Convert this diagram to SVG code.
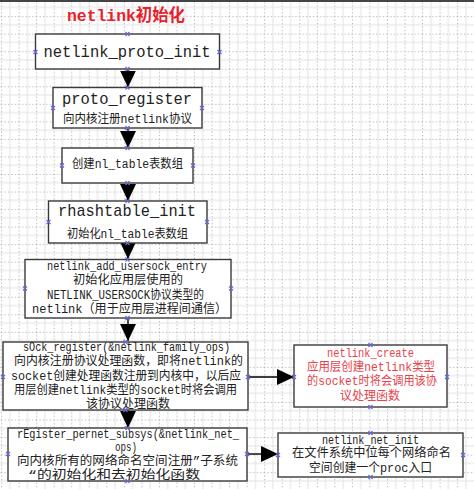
<svg xmlns="http://www.w3.org/2000/svg" width="474" height="489" viewBox="0 0 474 489">
<defs>
<pattern id="grid" x="1.1" y="-1.4" width="17.54" height="17.54" patternUnits="userSpaceOnUse">
<line x1="8.77" y1="0" x2="8.77" y2="17.54" stroke="#e2e2e2" stroke-width="1"/>
<line x1="0" y1="8.77" x2="17.54" y2="8.77" stroke="#e2e2e2" stroke-width="1"/>
<line x1="0.5" y1="0" x2="0.5" y2="17.54" stroke="#b4b4b4" stroke-width="1" stroke-dasharray="1.2 2.2"/>
<line x1="0" y1="0.5" x2="17.54" y2="0.5" stroke="#b4b4b4" stroke-width="1" stroke-dasharray="1.2 2.2"/>
</pattern>
<marker id="arr" viewBox="0 0 17 16" markerWidth="17" markerHeight="16" refX="17" refY="8" orient="auto" markerUnits="userSpaceOnUse">
<path d="M0,0 L17,8 L0,16 Z" fill="#000"/>
</marker>
<g id="cp"><path d="M-2,-2 L2,2 M-2,2 L2,-2" stroke="#6666d6" stroke-width="1.1" fill="none"/></g>
</defs>
<style>
.box{fill:#fff;stroke:#3a3a3a;stroke-width:1.4}
.t{font-family:"Liberation Mono","Noto Sans CJK SC",monospace;fill:#222;text-anchor:middle;dominant-baseline:central}
.big{font-size:17px}
.sm{font-size:12.5px}
.red{fill:#e8424a}
.conn{stroke:#000;stroke-width:1.4;fill:none}
</style>
<rect width="474" height="489" fill="#fff"/>
<rect width="474" height="489" fill="url(#grid)"/>
<rect x="0" y="0" width="474" height="2" fill="#444"/>
<text class="t" x="126" y="16" font-size="17" font-weight="bold" fill="#e8202a" style="fill:#e8202a" textLength="118" lengthAdjust="spacingAndGlyphs">netlink初始化</text>

<g id="connectors">
<line class="conn" x1="128" y1="69" x2="128" y2="87.5" marker-end="url(#arr)"/>
<line class="conn" x1="128" y1="128" x2="128" y2="148" marker-end="url(#arr)"/>
<line class="conn" x1="128" y1="183" x2="128" y2="201" marker-end="url(#arr)"/>
<line class="conn" x1="128" y1="243" x2="128" y2="259" marker-end="url(#arr)"/>
<line class="conn" x1="128" y1="318" x2="128" y2="341" marker-end="url(#arr)"/>
<line class="conn" x1="128" y1="410" x2="128" y2="428" marker-end="url(#arr)"/>
<line class="conn" x1="248" y1="377" x2="294" y2="377" marker-end="url(#arr)"/>
<line class="conn" x1="247" y1="454" x2="278" y2="454" marker-end="url(#arr)"/>
</g>

<g id="n1">
<rect class="box" x="35.5" y="34" width="184" height="35"/>
<text class="t big" x="127" y="52" textLength="167" lengthAdjust="spacingAndGlyphs">netlink_proto_init</text>
</g>
<g id="n2">
<rect class="box" x="53" y="87.5" width="149" height="40.5"/>
<text class="t big" x="127" y="99.5" textLength="130" lengthAdjust="spacingAndGlyphs">proto_register</text>
<text class="t sm" x="127.5" y="120" textLength="129" lengthAdjust="spacingAndGlyphs">向内核注册netlink协议</text>
</g>
<g id="n3">
<rect class="box" x="62" y="148" width="131" height="35"/>
<text class="t sm" x="127.5" y="165" textLength="111" lengthAdjust="spacingAndGlyphs">创建nl_table表数组</text>
</g>
<g id="n4">
<rect class="box" x="48.5" y="201" width="158.5" height="42"/>
<text class="t big" x="127" y="211.5" textLength="138" lengthAdjust="spacingAndGlyphs">rhashtable_init</text>
<text class="t sm" x="127.5" y="235" textLength="121" lengthAdjust="spacingAndGlyphs">初始化nl_table表数组</text>
</g>
<g id="n5">
<rect class="box" x="25" y="259.5" width="206" height="58.5"/>
<text class="t sm" x="127" y="266.5" textLength="160" lengthAdjust="spacingAndGlyphs">netlink_add_usersock_entry</text>
<text class="t sm" x="128" y="281" textLength="110" lengthAdjust="spacingAndGlyphs">初始化应用层使用的</text>
<text class="t sm" x="125.5" y="295.5" textLength="157" lengthAdjust="spacingAndGlyphs">NETLINK_USERSOCK协议类型的</text>
<text class="t sm" x="129.5" y="310" textLength="195" lengthAdjust="spacingAndGlyphs">netlink（用于应用层进程间通信）</text>
</g>
<g id="n6">
<rect class="box" x="3" y="342" width="245" height="68"/>
<text class="t sm" x="126.5" y="347.5" textLength="207" lengthAdjust="spacingAndGlyphs">sOck_register(&amp;netlink_family_ops)</text>
<text class="t sm" x="128.5" y="362" textLength="229" lengthAdjust="spacingAndGlyphs">向内核注册协议处理函数，即将netlink的</text>
<text class="t sm" x="126" y="377" textLength="230" lengthAdjust="spacingAndGlyphs">socket创建处理函数注册到内核中，以后应</text>
<text class="t sm" x="125.5" y="391" textLength="223" lengthAdjust="spacingAndGlyphs">用层创建netlink类型的socket时将会调用</text>
<text class="t sm" x="128" y="405" textLength="84" lengthAdjust="spacingAndGlyphs">该协议处理函数</text>
</g>
<g id="n7">
<rect class="box" x="294" y="345" width="153" height="62"/>
<text class="t sm red" x="370.5" y="354" textLength="87" lengthAdjust="spacingAndGlyphs">netlink_create</text>
<text class="t sm red" x="371" y="368" textLength="128" lengthAdjust="spacingAndGlyphs">应用层创建netlink类型</text>
<text class="t sm red" x="372" y="382" textLength="130" lengthAdjust="spacingAndGlyphs">的socket时将会调用该协</text>
<text class="t sm red" x="370" y="397" textLength="60" lengthAdjust="spacingAndGlyphs">议处理函数</text>
</g>
<g id="n8">
<rect class="box" x="8" y="428" width="239" height="53"/>
<text class="t sm" x="128" y="434.5" textLength="222" lengthAdjust="spacingAndGlyphs">rEgister_pernet_subsys(&amp;netlink_net_</text>
<text class="t sm" x="126" y="447.5" textLength="22" lengthAdjust="spacingAndGlyphs">ops)</text>
<text class="t sm" x="127.5" y="462" textLength="221" lengthAdjust="spacingAndGlyphs">向内核所有的网络命名空间注册”子系统</text>
<text class="t sm" x="114" y="476" textLength="172" lengthAdjust="spacingAndGlyphs">“的初始化和去初始化函数</text>
</g>
<g id="n9">
<rect class="box" x="278" y="433" width="185" height="44"/>
<text class="t sm" x="370.5" y="440.5" textLength="97" lengthAdjust="spacingAndGlyphs">netlink_net_init</text>
<text class="t sm" x="371.5" y="454" textLength="159" lengthAdjust="spacingAndGlyphs">在文件系统中位每个网络命名</text>
<text class="t sm" x="370.5" y="469" textLength="123" lengthAdjust="spacingAndGlyphs">空间创建一个proc入口</text>
</g>

<g id="connection-points">
<use href="#cp" x="127.5" y="34"/><use href="#cp" x="35.5" y="52"/><use href="#cp" x="219.5" y="52"/><use href="#cp" x="127.5" y="69"/>
<use href="#cp" x="127.5" y="87.5"/><use href="#cp" x="53" y="108"/><use href="#cp" x="202" y="108"/><use href="#cp" x="127.5" y="128"/>
<use href="#cp" x="127.5" y="148"/><use href="#cp" x="62" y="165.5"/><use href="#cp" x="193" y="165.5"/><use href="#cp" x="127.5" y="183"/>
<use href="#cp" x="127.5" y="201"/><use href="#cp" x="48.5" y="222"/><use href="#cp" x="207" y="222"/><use href="#cp" x="127.5" y="243"/>
<use href="#cp" x="127.5" y="259.5"/><use href="#cp" x="25" y="288.5"/><use href="#cp" x="231" y="288.5"/><use href="#cp" x="127.5" y="318"/>
<use href="#cp" x="125.5" y="342"/><use href="#cp" x="3" y="377"/><use href="#cp" x="248" y="377"/><use href="#cp" x="125.5" y="410"/>
<use href="#cp" x="370.5" y="345"/><use href="#cp" x="294" y="377"/><use href="#cp" x="447" y="377"/><use href="#cp" x="370.5" y="407"/>
<use href="#cp" x="127.5" y="428"/><use href="#cp" x="8" y="454"/><use href="#cp" x="247" y="454"/><use href="#cp" x="127.5" y="481"/>
<use href="#cp" x="370.5" y="433"/><use href="#cp" x="278" y="455"/><use href="#cp" x="463" y="455"/><use href="#cp" x="370.5" y="477"/>
</g>
</svg>
